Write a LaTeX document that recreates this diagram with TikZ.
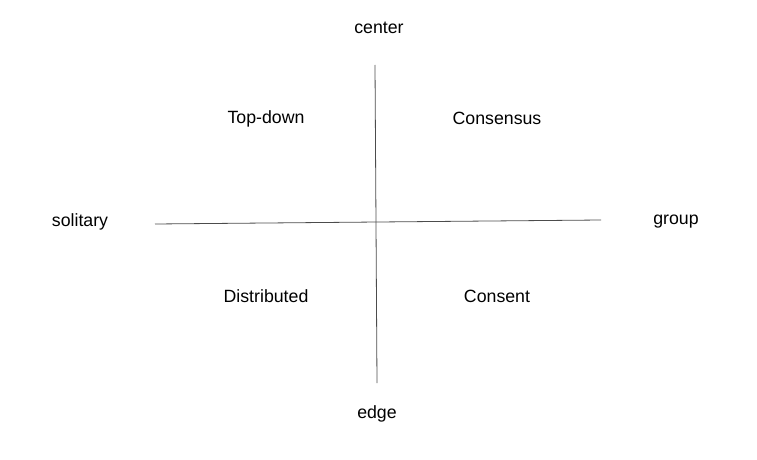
\documentclass[tikz,border=0pt]{standalone}
\usepackage{fontspec}
\setmainfont{Liberation Sans}
\begin{document}
\begin{tikzpicture}[x=0.75pt,y=-0.75pt,lbl/.style={font=\fontsize{13.3}{15}\selectfont,inner sep=0pt},axis/.style={draw=black!70,line width=0.6pt}]
\useasboundingbox (0,0) rectangle (757,460);
\coordinate (t) at (375,65);
\coordinate (b) at (377,383);
\coordinate (l) at (155,224);
\coordinate (r) at (601,220);
\draw[axis] (t) -- (b);
\draw[axis] (l) -- (r);
\node[lbl] (center) at (379,28) {center};
\node[lbl] (edge) at (377,414) {edge};
\node[lbl] (solitary) at (80,222) {solitary};
\node[lbl] (group) at (676,222) {group};
\node[lbl] (td) at (266,119) {Top-down};
\node[lbl] (cs) at (497,118) {Consensus};
\node[lbl] (di) at (266,296) {Distributed};
\node[lbl] (ct) at (497,296) {Consent};
\end{tikzpicture}
\end{document}
